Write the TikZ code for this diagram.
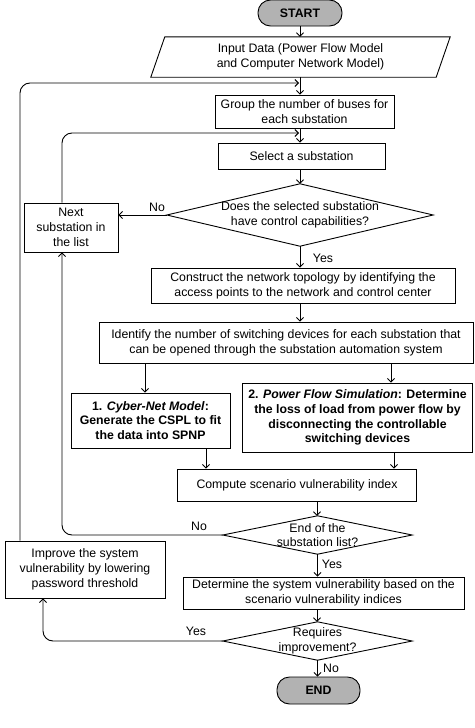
\documentclass[tikz,border=0pt]{standalone}
\usepackage{fontspec}
\setmainfont{Liberation Sans}
\usetikzlibrary{arrows.meta,calc}
\begin{document}
\begin{tikzpicture}[x=1pt,y=-1pt,
  every node/.style={font=\fontsize{12.3}{14.8}\selectfont, inner sep=0pt},
  box/.style={draw, line width=0.9pt, align=center},
  term/.style={draw, line width=0.9pt, fill=black!30, rounded corners=12.5pt, align=center, font=\fontsize{12.3}{14.8}\selectfont\bfseries},
  dia/.style={align=center},
  lbl/.style={font=\fontsize{12.3}{14.8}\selectfont},
  arr/.style={line width=0.9pt, -{Straight Barb[length=3.5pt,width=7pt]}},
  ln/.style={line width=0.9pt}]
\useasboundingbox (0,0) rectangle (474,728);

\node[term, minimum width=84pt, minimum height=26pt] (start) at (300,13) {START};
\node[dia, minimum width=285pt, minimum height=40pt] (input) at (300.5,57) {Input Data (Power Flow Model\\and Computer Network Model)};
\draw[ln] ([xshift=7pt]input.north west) -- ([xshift=7pt]input.north east) -- ([xshift=-7pt]input.south east) -- ([xshift=-7pt]input.south west) -- cycle;
\node[box, minimum width=179pt, minimum height=33pt] (group) at (304.5,111.5) {Group the number of buses for\\each substation};
\node[box, minimum width=167pt, minimum height=26pt] (select) at (301.5,156) {Select a substation};
\node[dia, minimum width=266pt, minimum height=62pt] (d1) at (300,215) {Does the selected substation\\have control capabilities?};
\draw[ln] (d1.north) -- (d1.east) -- (d1.south) -- (d1.west) -- cycle;
\node[box, minimum width=94pt, minimum height=49pt] (next) at (71,227.5) {Next\\substation in\\the list};
\node[box, minimum width=304pt, minimum height=35pt] (construct) at (303,285.5) {Construct the network topology by identifying the\\access points to the network and control center};
\node[box, minimum width=374pt, minimum height=41pt] (identify) at (286,342.5) {Identify the number of switching devices for each substation that\\can be opened through the substation automation system};
\node[box, minimum width=159pt, minimum height=55pt, font=\fontsize{12.3}{14.8}\selectfont\bfseries] (cyber) at (150.5,420.5) {1. \textit{Cyber-Net Model}:\\Generate the CSPL to fit\\the data into SPNP};
\node[box, minimum width=230pt, minimum height=69pt, font=\fontsize{12.3}{14.8}\selectfont\bfseries] (power) at (357.5,417.5) {2. \textit{Power Flow Simulation}: Determine\\the loss of load from power flow by\\disconnecting the controllable\\switching devices};
\node[box, minimum width=239pt, minimum height=32pt] (compute) at (297,485) {Compute scenario vulnerability index};
\node[dia, minimum width=189pt, minimum height=38pt] (d2) at (317.5,535) {End of the\\substation list?};
\draw[ln] (d2.north) -- (d2.east) -- (d2.south) -- (d2.west) -- cycle;
\node[box, minimum width=281pt, minimum height=32pt] (determine) at (323.5,593) {Determine the system vulnerability based on the\\scenario vulnerability indices};
\node[dia, minimum width=189pt, minimum height=38pt] (d3) at (317.5,641) {Requires\\improvement?};
\draw[ln] (d3.north) -- (d3.east) -- (d3.south) -- (d3.west) -- cycle;
\node[box, minimum width=160pt, minimum height=57pt] (improve) at (85,569.5) {Improve the system\\vulnerability by lowering\\password threshold};
\node[term, minimum width=83pt, minimum height=27pt] (end) at (318.5,690.5) {END};

\coordinate (l1) at (20,83);
\coordinate (l2) at (62,133);
\coordinate (l3) at (43,641);
\coordinate (j1) at (300,83);
\coordinate (j2) at (300,133);
\coordinate (xa) at (145,0);
\coordinate (xb) at (391,0);
\coordinate (xc) at (206,0);
\coordinate (xd) at (394,0);
\coordinate (xe) at (317,0);

\draw[arr] (start.south) -- (start.south |- input.north);
\draw[arr] (input.south -| j1) -- (j1 |- group.north);
\draw[arr] (group.south -| j2) -- (j2 |- select.north);
\draw[arr] (select.south -| d1.north) -- (d1.north);
\draw[arr, rounded corners=10pt] (improve.north -| l1) -- (l1) -- ([xshift=-1pt]j1);
\draw[arr, rounded corners=10pt] (next.north -| l2) -- (l2) -- ([xshift=-1pt]j2);
\draw[arr] (d1.west) -- (d1.west -| next.east);
\node[lbl] (no1) at (157,207) {No};
\draw[arr] (d1.south) -- (d1.south |- construct.north);
\node[lbl] (yes1) at (323,258) {Yes};
\draw[arr] (construct.south -| j1) -- (j1 |- identify.north);
\draw[arr] (identify.south -| xa) -- (xa |- cyber.north);
\draw[arr] (identify.south -| xb) -- (xb |- power.north);
\draw[arr] (cyber.south -| xc) -- (xc |- compute.north);
\draw[arr] (power.south -| xd) -- (xd |- compute.north);
\draw[arr] (compute.south -| xe) -- (xe |- d2.north);
\draw[arr, rounded corners=10pt] (d2.west) -- (d2.west -| l2) -- (l2 |- next.south);
\node[lbl] (no2) at (199,526) {No};
\draw[arr] (d2.south) -- (d2.south |- determine.north);
\node[lbl] (yes2) at (332,564) {Yes};
\draw[arr] (determine.south -| xe) -- (xe |- d3.north);
\draw[arr, rounded corners=10pt] (d3.west) -- (l3) -- (l3 |- improve.south);
\node[lbl] (yes3) at (196,631) {Yes};
\draw[arr] (d3.south) -- (d3.south |- end.north);
\node[lbl] (no3) at (331,668) {No};
\end{tikzpicture}
\end{document}
